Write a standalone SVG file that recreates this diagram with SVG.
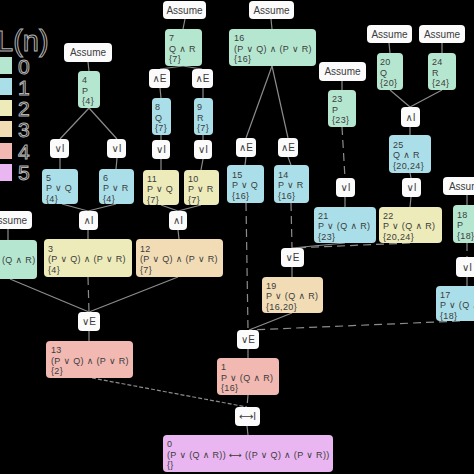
<svg xmlns="http://www.w3.org/2000/svg" width="474" height="474" viewBox="0 0 474 474">
<style>
text{font-family:"Liberation Sans","DejaVu Sans",sans-serif;}
.nd text{font-size:9px;letter-spacing:0.35px;fill:#3c3c3c;}
.rl rect{fill:#fbfbfb;}
.rl text{font-size:10px;fill:#3c3c3c;text-anchor:middle;}
.c0{fill:#b5e7d0}.c1{fill:#aadfe9}.c2{fill:#ecebb9}.c3{fill:#f1dcb6}.c4{fill:#f1b9b2}.c5{fill:#e9b6f1}
#edges line{stroke:#8c8c8c;stroke-width:1.2;fill:none}
#edges line.d{stroke-dasharray:8 5}
.lg{fill:#080808;stroke:#b4b4b4;stroke-width:1}
</style>
<rect width="474" height="474" fill="#000"/>
<g id="legend">
<text class="lg" x="-3" y="51" font-size="29">L(n)</text>
<rect class="c0" x="-5" y="57" width="17" height="17"/>
<rect class="c1" x="-5" y="78" width="17" height="17"/>
<rect class="c2" x="-5" y="100" width="17" height="16"/>
<rect class="c3" x="-5" y="121" width="17" height="16"/>
<rect class="c4" x="-5" y="143" width="17" height="16"/>
<rect class="c5" x="-5" y="164" width="17" height="17"/>
<text class="lg" x="18" y="74" font-size="21">0</text>
<text class="lg" x="18" y="95" font-size="21">1</text>
<text class="lg" x="18" y="116" font-size="21">2</text>
<text class="lg" x="18" y="137" font-size="21">3</text>
<text class="lg" x="18" y="159" font-size="21">4</text>
<text class="lg" x="18" y="180" font-size="21">5</text>
</g>
<g id="edges">
<line x1="88" y1="62" x2="89" y2="71"/>
<line x1="89" y1="108" x2="60" y2="139"/>
<line x1="89" y1="108" x2="117" y2="139"/>
<line x1="60" y1="158" x2="60" y2="169"/>
<line x1="117" y1="158" x2="116" y2="169"/>
<line x1="62" y1="204" x2="88" y2="211"/>
<line x1="116" y1="204" x2="88" y2="211"/>
<line x1="88" y1="230" x2="88" y2="239"/>
<line x1="8" y1="229" x2="8" y2="240"/>
<line x1="10" y1="279" x2="89" y2="312"/>
<line class="d" x1="88" y1="277" x2="89" y2="312"/>
<line x1="178" y1="277" x2="89" y2="312"/>
<line x1="89" y1="331" x2="89" y2="341"/>
<line class="d" style="stroke-dasharray:4 2" x1="92" y1="378" x2="247" y2="407"/>
<line x1="185" y1="19" x2="183" y2="29"/>
<line x1="183" y1="66" x2="160" y2="69"/>
<line x1="183" y1="66" x2="202" y2="69"/>
<line x1="160" y1="88" x2="161" y2="98"/>
<line x1="203" y1="88" x2="203" y2="98"/>
<line x1="161" y1="135" x2="161" y2="140"/>
<line x1="203" y1="135" x2="203" y2="140"/>
<line x1="161" y1="159" x2="161" y2="170"/>
<line x1="203" y1="159" x2="201" y2="170"/>
<line x1="161" y1="205" x2="178" y2="211"/>
<line x1="201" y1="205" x2="178" y2="211"/>
<line x1="178" y1="230" x2="179" y2="239"/>
<line x1="271" y1="19" x2="272" y2="29"/>
<line x1="272" y1="66" x2="246" y2="138"/>
<line x1="272" y1="66" x2="288" y2="138"/>
<line x1="246" y1="157" x2="245" y2="165"/>
<line x1="288" y1="157" x2="291" y2="165"/>
<line class="d" x1="246" y1="203" x2="248" y2="330"/>
<line class="d" x1="291" y1="203" x2="292" y2="248"/>
<line x1="389" y1="43" x2="390" y2="53"/>
<line x1="442" y1="43" x2="442" y2="53"/>
<line x1="390" y1="90" x2="410" y2="107"/>
<line x1="442" y1="90" x2="410" y2="107"/>
<line x1="410" y1="127" x2="410" y2="135"/>
<line x1="342" y1="81" x2="342" y2="90"/>
<line class="d" x1="342" y1="127" x2="345" y2="178"/>
<line x1="345" y1="197" x2="345" y2="207"/>
<line x1="410" y1="173" x2="411" y2="178"/>
<line x1="411" y1="197" x2="410" y2="207"/>
<line x1="345" y1="243" x2="292" y2="248"/>
<line class="d" x1="410" y1="243" x2="293" y2="248"/>
<line x1="292" y1="267" x2="292" y2="277"/>
<line x1="292" y1="313" x2="249" y2="330"/>
<line x1="467" y1="195" x2="467" y2="205"/>
<line class="d" x1="467" y1="243" x2="467" y2="257"/>
<line x1="467" y1="277" x2="467" y2="286"/>
<line class="d" x1="460" y1="321" x2="250" y2="330"/>
<line x1="248" y1="349" x2="248" y2="358"/>
<line class="d" x1="248" y1="395" x2="247" y2="407"/>
<line x1="247" y1="426" x2="248" y2="435"/>
</g>
<g class="rl">
<g id="r_as4"><rect x="64" y="43" width="48" height="19" rx="4"/><text x="88" y="56">Assume</text></g>
<g id="r_oi5"><rect x="50" y="139" width="19" height="19" rx="4"/><text x="59.5" y="152">∨I</text></g>
<g id="r_oi6"><rect x="107" y="139" width="19" height="19" rx="4"/><text x="116.5" y="152">∨I</text></g>
<g id="r_ai3"><rect x="79" y="211" width="19" height="19" rx="4"/><text x="88.5" y="224">∧I</text></g>
<g id="r_as2"><rect x="-16" y="211" width="48" height="18" rx="4"/><text x="9" y="224">Assume</text></g>
<g id="r_oe13"><rect x="78" y="312" width="22" height="19" rx="4"/><text x="89" y="325">∨E</text></g>
<g id="r_as7"><rect x="163" y="1" width="43" height="18" rx="4"/><text x="184.5" y="14">Assume</text></g>
<g id="r_ae8"><rect x="149" y="69" width="21" height="19" rx="4"/><text x="159.5" y="82">∧E</text></g>
<g id="r_ae9"><rect x="192" y="69" width="21" height="19" rx="4"/><text x="202.5" y="82">∧E</text></g>
<g id="r_oi11"><rect x="152" y="140" width="18" height="19" rx="4"/><text x="161" y="153">∨I</text></g>
<g id="r_oi10"><rect x="194" y="140" width="18" height="19" rx="4"/><text x="203" y="153">∨I</text></g>
<g id="r_ai12"><rect x="169" y="211" width="18" height="19" rx="4"/><text x="178" y="224">∧I</text></g>
<g id="r_as16"><rect x="249" y="1" width="45" height="18" rx="4"/><text x="271.5" y="14">Assume</text></g>
<g id="r_ae15"><rect x="236" y="138" width="20" height="19" rx="4"/><text x="246" y="151">∧E</text></g>
<g id="r_ae14"><rect x="278" y="138" width="20" height="19" rx="4"/><text x="288" y="151">∧E</text></g>
<g id="r_as20"><rect x="367" y="25" width="45" height="18" rx="4"/><text x="389.5" y="38">Assume</text></g>
<g id="r_as24"><rect x="419" y="25" width="46" height="18" rx="4"/><text x="442" y="38">Assume</text></g>
<g id="r_as23"><rect x="319" y="62" width="47" height="19" rx="4"/><text x="342.5" y="75">Assume</text></g>
<g id="r_ai25"><rect x="401" y="107" width="19" height="20" rx="4"/><text x="410.5" y="121">∧I</text></g>
<g id="r_oi21"><rect x="336" y="178" width="19" height="19" rx="4"/><text x="345.5" y="191">∨I</text></g>
<g id="r_oi22"><rect x="402" y="178" width="19" height="19" rx="4"/><text x="411.5" y="191">∨I</text></g>
<g id="r_as18"><rect x="443" y="177" width="50" height="18" rx="4"/><text x="467" y="190">Assume</text></g>
<g id="r_oi17"><rect x="456" y="257" width="22" height="20" rx="4"/><text x="467" y="271">∨I</text></g>
<g id="r_oe19"><rect x="281" y="248" width="23" height="19" rx="4"/><text x="292.5" y="261">∨E</text></g>
<g id="r_oe1"><rect x="237" y="330" width="22" height="19" rx="4"/><text x="248" y="343">∨E</text></g>
<g id="r_ii0"><rect x="235" y="407" width="25" height="19" rx="4"/><text x="247.5" y="420">⟷I</text></g>
</g>
<g class="nd">
<g id="n4"><rect class="c0" x="78" y="71" width="22" height="37" rx="4"/><text x="82" y="83">4<tspan x="82" dy="10.6">P</tspan><tspan x="82" dy="10.6">{4}</tspan></text></g>
<g id="n5"><rect class="c1" x="42" y="169" width="36" height="35" rx="4"/><text x="46" y="180.5">5<tspan x="46" dy="10.6">P ∨ Q</tspan><tspan x="46" dy="10.6">{4}</tspan></text></g>
<g id="n6"><rect class="c1" x="99" y="169" width="35" height="35" rx="4"/><text x="103" y="180.5">6<tspan x="103" dy="10.6">P ∨ R</tspan><tspan x="103" dy="10.6">{4}</tspan></text></g>
<g id="n11"><rect class="c2" x="143" y="170" width="36" height="35" rx="4"/><text x="147" y="181.5">11<tspan x="147" dy="10.6">P ∨ Q</tspan><tspan x="147" dy="10.6">{7}</tspan></text></g>
<g id="n10"><rect class="c2" x="184" y="170" width="35" height="35" rx="4"/><text x="188" y="181.5">10<tspan x="188" dy="10.6">P ∨ R</tspan><tspan x="188" dy="10.6">{7}</tspan></text></g>
<g id="n15"><rect class="c1" x="227" y="165" width="37" height="38" rx="4"/><text x="232" y="177.5">15<tspan x="232" dy="10.6">P ∨ Q</tspan><tspan x="232" dy="10.6">{16}</tspan></text></g>
<g id="n14"><rect class="c1" x="274" y="165" width="35" height="38" rx="4"/><text x="278" y="177.5">14<tspan x="278" dy="10.6">P ∨ R</tspan><tspan x="278" dy="10.6">{16}</tspan></text></g>
<g id="n7"><rect class="c0" x="165" y="29" width="37" height="37" rx="4"/><text x="169" y="41">7<tspan x="169" dy="10.6">Q ∧ R</tspan><tspan x="169" dy="10.6">{7}</tspan></text></g>
<g id="n8"><rect class="c1" x="152" y="98" width="19" height="37" rx="4"/><text x="155" y="110">8<tspan x="155" dy="10.6">Q</tspan><tspan x="155" dy="10.6">{7}</tspan></text></g>
<g id="n9"><rect class="c1" x="194" y="98" width="19" height="37" rx="4"/><text x="197" y="110">9<tspan x="197" dy="10.6">R</tspan><tspan x="197" dy="10.6">{7}</tspan></text></g>
<g id="n16"><rect class="c0" x="229" y="29" width="87" height="37" rx="4"/><text x="234" y="41">16<tspan x="234" dy="10.6">(P ∨ Q) ∧ (P ∨ R)</tspan><tspan x="234" dy="10.6">{16}</tspan></text></g>
<g id="n20"><rect class="c0" x="377" y="53" width="26" height="37" rx="4"/><text x="380" y="65">20<tspan x="380" dy="10.6">Q</tspan><tspan x="380" dy="10.6">{20}</tspan></text></g>
<g id="n24"><rect class="c0" x="428" y="53" width="28" height="37" rx="4"/><text x="432" y="65">24<tspan x="432" dy="10.6">R</tspan><tspan x="432" dy="10.6">{24}</tspan></text></g>
<g id="n23"><rect class="c0" x="328" y="90" width="28" height="37" rx="4"/><text x="332" y="102">23<tspan x="332" dy="10.6">P</tspan><tspan x="332" dy="10.6">{23}</tspan></text></g>
<g id="n25"><rect class="c1" x="389" y="135" width="42" height="38" rx="4"/><text x="393" y="147.5">25<tspan x="393" dy="10.6">Q ∧ R</tspan><tspan x="393" dy="10.6">{20,24}</tspan></text></g>
<g id="n21"><rect class="c1" x="314" y="207" width="62" height="36" rx="4"/><text x="318" y="218.5">21<tspan x="318" dy="10.6">P ∨ (Q ∧ R)</tspan><tspan x="318" dy="10.6">{23}</tspan></text></g>
<g id="n22"><rect class="c2" x="379" y="207" width="63" height="36" rx="4"/><text x="383" y="218.5">22<tspan x="383" dy="10.6">P ∨ (Q ∧ R)</tspan><tspan x="383" dy="10.6">{20,24}</tspan></text></g>
<g id="n18"><rect class="c0" x="453" y="205" width="30" height="38" rx="4"/><text x="457" y="217.5">18<tspan x="457" dy="10.6">P</tspan><tspan x="457" dy="10.6">{18}</tspan></text></g>
<g id="n17"><rect class="c1" x="436" y="286" width="50" height="35" rx="4"/><text x="440" y="297.5">17<tspan x="440" dy="10.6">P ∨ (Q ∧ R)</tspan><tspan x="440" dy="10.6">{18}</tspan></text></g>
<g id="n2"><rect class="c0" x="-40" y="240" width="77" height="39" rx="4"/><text x="2" y="263">(Q ∧ R)</text></g>
<g id="n3"><rect class="c2" x="44" y="239" width="88" height="38" rx="4"/><text x="48" y="251.5">3<tspan x="48" dy="10.6">(P ∨ Q) ∧ (P ∨ R)</tspan><tspan x="48" dy="10.6">{4}</tspan></text></g>
<g id="n12"><rect class="c3" x="136" y="239" width="87" height="38" rx="4"/><text x="140" y="251.5">12<tspan x="140" dy="10.6">(P ∨ Q) ∧ (P ∨ R)</tspan><tspan x="140" dy="10.6">{7}</tspan></text></g>
<g id="n13"><rect class="c4" x="46" y="341" width="87" height="37" rx="4"/><text x="51" y="353">13<tspan x="51" dy="10.6">(P ∨ Q) ∧ (P ∨ R)</tspan><tspan x="51" dy="10.6">{2}</tspan></text></g>
<g id="n19"><rect class="c3" x="262" y="277" width="61" height="36" rx="4"/><text x="266" y="288.5">19<tspan x="266" dy="10.6">P ∨ (Q ∧ R)</tspan><tspan x="266" dy="10.6">{16,20}</tspan></text></g>
<g id="n1"><rect class="c4" x="217" y="358" width="62" height="37" rx="4"/><text x="221" y="370">1<tspan x="221" dy="10.6">P ∨ (Q ∧ R)</tspan><tspan x="221" dy="10.6">{16}</tspan></text></g>
<g id="n0"><rect class="c5" x="163" y="435" width="170" height="37" rx="4"/><text x="167" y="447">0<tspan x="167" dy="10.6">(P ∨ (Q ∧ R)) ⟷ ((P ∨ Q) ∧ (P ∨ R))</tspan><tspan x="167" dy="10.6">{}</tspan></text></g>
</g>
</svg>
